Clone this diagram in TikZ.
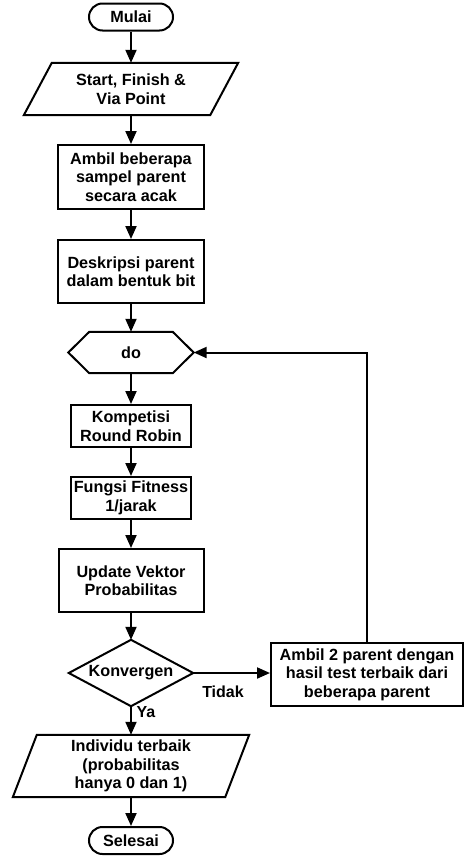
\documentclass[tikz,border=0pt]{standalone}
\usepackage{fontspec}
\setmainfont{Liberation Sans}
\usetikzlibrary{arrows.meta,calc}
\begin{document}
\begin{tikzpicture}[x=1pt,y=-1pt,
  every node/.style={font=\bfseries\fontsize{16.2}{18.5}\selectfont, align=center, inner sep=0pt},
  box/.style={draw, line width=2pt, rectangle},
  ghost/.style={draw=none, rectangle},
  term/.style={draw, line width=2pt, rectangle, rounded corners=13.5pt, minimum width=84pt, minimum height=27pt},
  outline/.style={line width=2pt, line join=miter},
  conn/.style={line width=2pt, -{Triangle[length=13pt,width=11pt]}},
  lbl/.style={font=\bfseries\fontsize{16}{18}\selectfont}
]
\useasboundingbox (0,0) rectangle (474,865);

\node[term] (mulai) at (131,17) {Mulai};

\node[ghost, minimum width=186pt, minimum height=52pt] (start) at (131,89) {Start, Finish \&\\Via Point};
\draw[outline] ($(start.north west)+(14,0)$) -- ($(start.north east)+(14,0)$) -- ($(start.south east)+(-14,0)$) -- ($(start.south west)+(-14,0)$) -- cycle;

\node[box, minimum width=146pt, minimum height=64pt] (ambil) at (131,177) {Ambil beberapa\\sampel parent\\secara acak};
\node[box, minimum width=146pt, minimum height=63pt] (desk) at (131,271.5) {Deskripsi parent\\dalam bentuk bit};

\node[ghost, minimum width=125pt, minimum height=41pt] (do) at (131,352.5) {do};
\draw[outline] (do.west) -- ($(do.north west)+(21,0)$) -- ($(do.north east)+(-21,0)$) -- (do.east) -- ($(do.south east)+(-21,0)$) -- ($(do.south west)+(21,0)$) -- cycle;

\node[box, minimum width=120pt, minimum height=42pt] (komp) at (131,426) {Kompetisi\\Round Robin};
\node[box, minimum width=120pt, minimum height=42pt] (fit) at (131,498) {Fungsi Fitness\\1/jarak};
\node[box, minimum width=145pt, minimum height=63pt] (upd) at (131,580.5) {Update Vektor\\Probabilitas};

\node[ghost, minimum width=124pt, minimum height=66pt] (konv) at (131,673) {Konvergen};
\draw[outline] (konv.west) -- (konv.north) -- (konv.east) -- (konv.south) -- cycle;

\node[box, minimum width=192pt, minimum height=63pt] (ambil2) at (367,674.5) {Ambil 2 parent dengan\\hasil test terbaik dari\\beberapa parent};

\node[ghost, minimum width=212pt, minimum height=62pt] (indiv) at (131,766) {Individu terbaik\\(probabilitas\\hanya 0 dan 1)};
\draw[outline] ($(indiv.north west)+(12,0)$) -- ($(indiv.north east)+(12,0)$) -- ($(indiv.south east)+(-12,0)$) -- ($(indiv.south west)+(-12,0)$) -- cycle;

\node[term] (selesai) at (131,840.5) {Selesai};

\draw[conn] (mulai.south) -- (start.north);
\draw[conn] (start.south) -- (ambil.north);
\draw[conn] (ambil.south) -- (desk.north);
\draw[conn] (desk.south) -- (do.north);
\draw[conn] (do.south) -- (komp.north);
\draw[conn] (komp.south) -- (fit.north);
\draw[conn] (fit.south) -- (upd.north);
\draw[conn] (upd.south) -- (konv.north);
\draw[conn] (konv.east) -- (konv.east -| ambil2.west);
\draw[conn] (konv.south) -- (indiv.north);
\draw[conn] (indiv.south) -- (selesai.north);
\draw[conn, line join=miter] (ambil2.north) |- (do.east);

\node[lbl] (tidak) at (223,692) {Tidak};
\node[lbl] (ya) at (146,712) {Ya};
\end{tikzpicture}
\end{document}
